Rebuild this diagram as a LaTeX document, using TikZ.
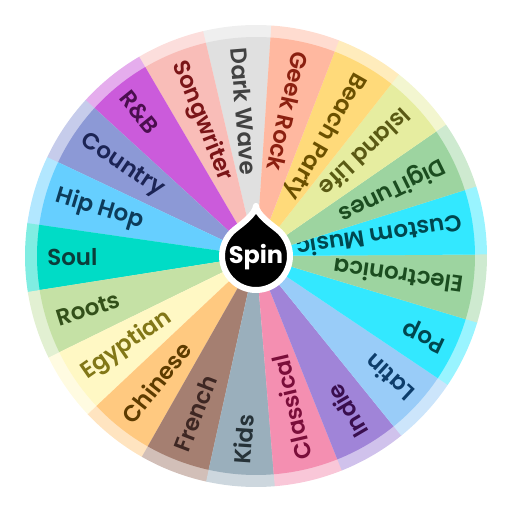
\documentclass[tikz,border=0pt]{standalone}
\usepackage{fontspec}
\setmainfont{Poppins}[UprightFont=* SemiBold, BoldFont=* Bold]
\usetikzlibrary{calc}
\tikzset{
  lbl/.style={anchor=west, inner sep=0pt, font=\fontsize{23}{23}\selectfont},
  spinlbl/.style={text=white, inner sep=0pt, font=\bfseries\fontsize{24}{24}\selectfont},
}
\begin{document}
\begin{tikzpicture}[x=1pt,y=1pt]
\useasboundingbox (0,0) rectangle (512,512);
\begin{scope}[shift={(256,256)}]
\coordinate (c) at (0,0);
\foreach \i/\n/\f/\t in {
0/Dark Wave/E0E0E0/424242,
1/Songwriter/F9BDB8/7B1518,
2/R\&B/CB5BDB/4A0E4E,
3/Country/8C99D6/1C2455,
4/Hip Hop/66CFFF/0D3C5A,
5/Soul/00DCC6/0B3D3A,
6/Roots/C5E1A5/33501A,
7/Egyptian/FFF8C4/827717,
8/Chinese/FFC980/5D3B00,
9/French/A57F71/3E2723,
10/Kids/9AAFBC/263238,
11/Classical/F48FB1/7A0E3A,
12/Indie/A084D8/3A0F4F,
13/Latin/99CCF8/0D3D6B,
14/Pop/33E8FF/00474F,
15/Electronica/9DD4A0/1B4D20,
16/Custom Music/33E8FF/00474F,
17/DigiTunes/9DD4A0/1B4D20,
18/Island Life/E6EDA0/5A5A14,
19/Beach Party/FFDA7A/6B5000,
20/Geek Rock/FFB8A0/8B2010}{
  \pgfmathsetmacro\a{94.67+\i*17.142857}
  \pgfmathsetmacro\sa{\a-8.5714}
  \pgfmathsetmacro\ea{\a+8.6714}
  \definecolor{fc}{HTML}{\f}
  \definecolor{tc}{HTML}{\t}
  \fill[fc!50] (c) -- (\sa:231) arc[start angle=\sa, end angle=\ea, radius=231] -- cycle;
  \fill[fc] (c) -- (\sa:219) arc[start angle=\sa, end angle=\ea, radius=219] -- cycle;
  \node[lbl, text=tc, rotate=\a+180] (l\i) at (\a:209) {\n};
}
\draw[white, line width=6, fill=black, line join=round]
  (0,50) .. controls (1,41) and (15.8,31.1) .. (50:34)
  arc[start angle=50, end angle=-230, radius=34]
  .. controls (-15.8,31.1) and (-1,41) .. (0,50) -- cycle;
\node[spinlbl] (spin) at (0,-1) {Spin};
\end{scope}
\end{tikzpicture}
\end{document}
